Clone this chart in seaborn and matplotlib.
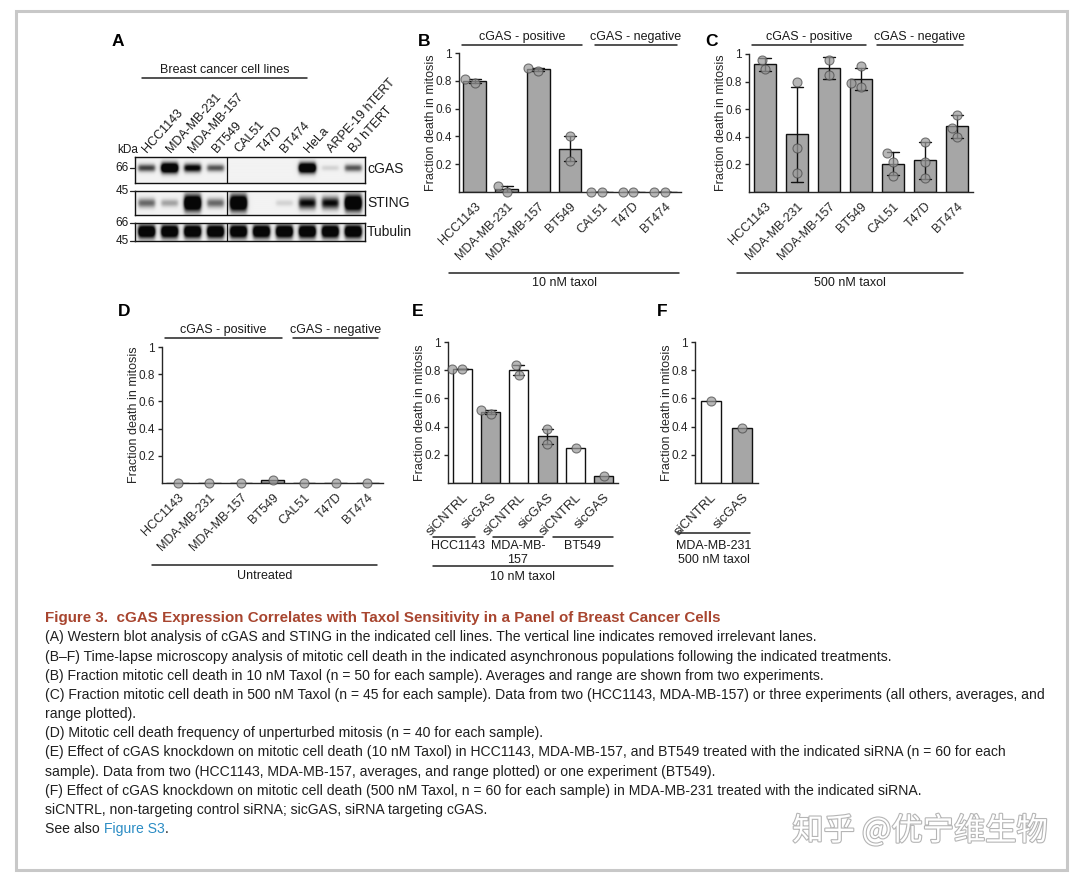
import numpy as np
import pandas as pd
import matplotlib
matplotlib.use("Agg")
import matplotlib.pyplot as plt
import matplotlib.transforms as mtransforms
import matplotlib.patheffects as pe
from matplotlib.lines import Line2D
from matplotlib.patches import Rectangle
import seaborn as sns

# ---- datos ----
cell_lines = ["HCC1143", "MDA-MB-231", "MDA-MB-157", "BT549", "CAL51", "T47D", "BT474"]
blot_lanes = ["HCC1143", "MDA-MB-231", "MDA-MB-157", "BT549", "CAL51", "T47D",
              "BT474", "HeLa", "ARPE-19 hTERT", "BJ hTERT"]
blot_cgas = [0.45, 1.0, 0.65, 0.4, 0.0, 0.0, 0.0, 1.0, 0.08, 0.4]
blot_sting = [0.35, 0.2, 1.0, 0.35, 1.0, 0.0, 0.08, 0.6, 0.6, 1.0]
blot_tubulin = [0.95, 0.95, 0.95, 0.95, 0.95, 0.95, 0.95, 0.95, 0.95, 0.95]

b_reps = [[0.785, 0.815], [0.0, 0.045], [0.87, 0.893], [0.40, 0.22], [0.0, 0.0], [0.0, 0.0], [0.0, 0.0]]
c_reps = [[0.89, 0.96], [0.80, 0.32, 0.135], [0.955, 0.845], [0.91, 0.79, 0.76],
          [0.28, 0.22, 0.115], [0.365, 0.22, 0.10], [0.56, 0.465, 0.40]]
d_reps = [[0.0], [0.0], [0.0], [0.025], [0.0], [0.0], [0.0]]

e_keys = ["HCC1143 siCNTRL", "HCC1143 sicGAS", "MDA-MB-157 siCNTRL", "MDA-MB-157 sicGAS",
          "BT549 siCNTRL", "BT549 sicGAS"]
e_labels = ["siCNTRL", "sicGAS", "siCNTRL", "sicGAS", "siCNTRL", "sicGAS"]
e_reps = [[0.81, 0.81], [0.487, 0.518], [0.765, 0.835], [0.38, 0.28], [0.25], [0.05]]
f_labels = ["siCNTRL", "sicGAS"]
f_reps = [[0.585], [0.39]]

caption_title = "Figure 3.  cGAS Expression Correlates with Taxol Sensitivity in a Panel of Breast Cancer Cells"
caption_lines = [
    "(A) Western blot analysis of cGAS and STING in the indicated cell lines. The vertical line indicates removed irrelevant lanes.",
    "(B\u2013F) Time-lapse microscopy analysis of mitotic cell death in the indicated asynchronous populations following the indicated treatments.",
    "(B) Fraction mitotic cell death in 10 nM Taxol (n = 50 for each sample). Averages and range are shown from two experiments.",
    "(C) Fraction mitotic cell death in 500 nM Taxol (n = 45 for each sample). Data from two (HCC1143, MDA-MB-157) or three experiments (all others, averages, and",
    "range plotted).",
    "(D) Mitotic cell death frequency of unperturbed mitosis (n = 40 for each sample).",
    "(E) Effect of cGAS knockdown on mitotic cell death (10 nM Taxol) in HCC1143, MDA-MB-157, and BT549 treated with the indicated siRNA (n = 60 for each",
    "sample). Data from two (HCC1143, MDA-MB-157, averages, and range plotted) or one experiment (BT549).",
    "(F) Effect of cGAS knockdown on mitotic cell death (500 nM Taxol, n = 60 for each sample) in MDA-MB-231 treated with the indicated siRNA.",
    "siCNTRL, non-targeting control siRNA; sicGAS, siRNA targeting cGAS.",
]

BAR_GRAY = "#a6a6a6"
PT_GRAY = "#9c9c9c"

sns.set_theme(style="ticks")
plt.rcParams["font.family"] = ["Liberation Sans", "DejaVu Sans"]
plt.rcParams["axes.linewidth"] = 1.0

W, H = 1080, 880
fig = plt.figure(figsize=(W / 100, H / 100), dpi=100)
fig.patch.set_facecolor("white")


def fx(x):
    return x / W


def fy(y):
    return 1 - y / H


def caja(x0, y0, x1, y1):
    return [x0 / W, 1 - y1 / H, (x1 - x0) / W, (y1 - y0) / H]


def linea(x0, x1, y, lw=1.1, color="#222222"):
    fig.add_artist(Line2D([fx(x0), fx(x1)], [fy(y), fy(y)], transform=fig.transFigure,
                          color=color, lw=lw))


def texto(x, y, s, **kw):
    kw.setdefault("ha", "center")
    kw.setdefault("va", "center")
    kw.setdefault("fontsize", 9)
    kw.setdefault("color", "#1a1a1a")
    return fig.text(fx(x), fy(y), s, **kw)


def largo(keys, reps):
    filas = [(k, v) for k, vals in zip(keys, reps) for v in vals]
    return pd.DataFrame(filas, columns=["cat", "val"])


def panel_barras(rect, keys, reps, labels, colores, err, width, fs_x=9):
    ax = fig.add_axes(caja(*rect))
    df = largo(keys, reps)
    ax.set_ylim(0, 1)
    sns.barplot(data=df, x="cat", y="val", order=keys, hue="cat", hue_order=keys,
                palette=colores, legend=False, estimator="mean", errorbar=err,
                capsize=0.38, err_kws={"color": "#111111", "linewidth": 1.0},
                edgecolor="#111111", linewidth=1.0, width=width, saturation=1, ax=ax)
    sns.swarmplot(data=df, x="cat", y="val", order=keys, color=PT_GRAY, size=6.5,
                  edgecolor="#4a4a4a", linewidth=0.8, alpha=0.72, ax=ax, zorder=5)
    for coll in ax.collections:
        coll.set_clip_on(False)
    ax.set_ylim(0, 1)
    ax.set_xlim(-0.5, len(keys) - 0.5)
    ax.set_yticks([0.2, 0.4, 0.6, 0.8, 1.0])
    ax.set_yticklabels(["0.2", "0.4", "0.6", "0.8", "1"], fontsize=8.5)
    ax.set_xticks(range(len(keys)))
    ax.set_xticklabels(labels, rotation=45, ha="right", rotation_mode="anchor", fontsize=fs_x)
    desplaza = mtransforms.ScaledTranslation(3.5 / 72, 0, fig.dpi_scale_trans)
    for lbl in ax.get_xticklabels():
        lbl.set_transform(lbl.get_transform() + desplaza)
    ax.tick_params(axis="x", length=0, pad=6)
    ax.tick_params(axis="y", length=3, width=1, pad=2)
    ax.set_xlabel("")
    ax.set_ylabel("Fraction death in mitosis", fontsize=9, labelpad=-1)
    ax.set_facecolor("none")
    sns.despine(ax=ax)
    return ax


# ---- panel A: western blot ----
def tira(rect, intens, yc, sy0, sy1):
    ax = fig.add_axes(caja(*rect))
    xs = np.linspace(0, 10, 460)
    ys = np.linspace(0, 1, 60)
    X, Y = np.meshgrid(xs, ys)
    osc = np.zeros_like(X)
    for i, val in enumerate(intens):
        hx = 1 / (1 + np.exp((np.abs(X - (i + 0.5)) - 0.36) / 0.04))
        sy = sy0 + sy1 * val
        osc += val * hx * np.exp(-0.5 * ((Y - yc) / sy) ** 2)
    osc = np.clip(1.7 * osc, 0, 1)
    img = 0.95 - 0.92 * osc
    ax.imshow(img, cmap="gray", vmin=0, vmax=1, extent=[0, 10, 1, 0], aspect="auto",
              interpolation="bilinear")
    ax.axvline(4, color="#111111", lw=0.9)
    ax.set_xticks([])
    ax.set_yticks([])
    for s in ax.spines.values():
        s.set_linewidth(1.0)
        s.set_color("#111111")
    return ax


tira((135, 157, 365, 183), blot_cgas, 0.42, 0.07, 0.07)
tira((135, 191, 365, 215), blot_sting, 0.5, 0.08, 0.16)
tira((135, 223, 365, 241), blot_tubulin, 0.5, 0.2, 0.05)

for i, nombre in enumerate(blot_lanes):
    texto(135 + 23 * (i + 0.5) + 1, 153, nombre, rotation=48, ha="left", va="baseline",
          rotation_mode="anchor", fontsize=9)

texto(128, 150, "kDa", fontsize=8.5)
for y, s in [(168, "66"), (191, "45"), (223, "66"), (241, "45")]:
    texto(129, y, s, ha="right", fontsize=8.5)
    linea(130, 135, y, lw=0.9)
texto(367, 169, "cGAS", ha="left", fontsize=10)
texto(367, 203, "STING", ha="left", fontsize=10)
texto(367, 232, "Tubulin", ha="left", fontsize=10)
texto(225, 70, "Breast cancer cell lines", fontsize=9)
linea(142, 307, 78)

# ---- paneles B-F ----
panel_barras((459, 53, 681, 192), cell_lines, b_reps, cell_lines, [BAR_GRAY] * 7, ("pi", 100), 0.72)
panel_barras((749, 54, 973, 192), cell_lines, c_reps, cell_lines, [BAR_GRAY] * 7, "sd", 0.68)
panel_barras((162, 347, 383, 483), cell_lines, d_reps, cell_lines, [BAR_GRAY] * 7, ("pi", 100), 0.72)
panel_barras((448, 342, 618, 483), e_keys, e_reps, e_labels, ["white", BAR_GRAY] * 3, ("pi", 100), 0.68, 9.5)
panel_barras((695, 342, 758, 483), f_labels, f_reps, f_labels, ["white", BAR_GRAY], ("pi", 100), 0.64, 9.5)

# anotaciones de grupos
for xp, xn, y in [((462, 582), (595, 677), 45), ((752, 866), (877, 963), 45), ((165, 282), (293, 378), 338)]:
    linea(xp[0], xp[1], y)
    linea(xn[0], xn[1], y)
    texto((xp[0] + xp[1]) / 2, y - 8, "cGAS - positive")
    texto((xn[0] + xn[1]) / 2, y - 8, "cGAS - negative")

linea(449, 679, 273)
texto(564, 283, "10 nM taxol")
linea(737, 963, 273)
texto(850, 283, "500 nM taxol")
linea(152, 377, 565)
texto(265, 576, "Untreated")

linea(433, 475, 537)
linea(493, 543, 537)
linea(553, 613, 537)
texto(458, 546, "HCC1143")
texto(518, 546, "MDA-MB-")
texto(518, 560, "157")
texto(582, 546, "BT549")
linea(433, 613, 566)
texto(523, 577, "10 nM taxol")

linea(677, 750, 533)
texto(714, 546, "MDA-MB-231")
texto(714, 560, "500 nM taxol")

# letras de panel
for letra, x, y in [("A", 118, 42), ("B", 424, 41), ("C", 712, 42),
                    ("D", 124, 311), ("E", 418, 311), ("F", 662, 311)]:
    texto(x, y, letra, fontsize=12.5, fontweight="bold", color="black")

# ---- leyenda de la figura ----
texto(45, 618, caption_title, ha="left", fontsize=10.9, fontweight="bold", color="#a8452f")
ys_cap = [637, 657, 676, 695, 714, 733, 752, 772, 791, 810]
for y, s in zip(ys_cap, caption_lines):
    texto(45, y, s, ha="left", fontsize=10.05, color="#1f1f1f")
t_see = texto(45, 829, "See also", ha="left", fontsize=10.05, color="#1f1f1f")
renderer = fig.canvas.get_renderer()
bb = t_see.get_window_extent(renderer)
x_fig = bb.x1 + 4
t_fig = fig.text(x_fig / W, fy(829), "Figure S3", ha="left", va="center", fontsize=10.05, color="#2b8cc4")
bb2 = t_fig.get_window_extent(renderer)
fig.text(bb2.x1 / W, fy(829), ".", ha="left", va="center", fontsize=10.05, color="#1f1f1f")

# marca de agua
texto(920, 831, "知乎 @优宁维生物", fontsize=22.5, color="white",
      family=["Noto Sans CJK SC", "DejaVu Sans"],
      path_effects=[pe.withStroke(linewidth=1.6, foreground="#b5b5b5")])

# marco
fig.add_artist(Rectangle((fx(16), fy(870)), (1067 - 16) / W, (870 - 11) / H,
                         transform=fig.transFigure, fill=False, edgecolor="#c8c8c8", lw=2.2))

fig.savefig("out.png", dpi=100)
